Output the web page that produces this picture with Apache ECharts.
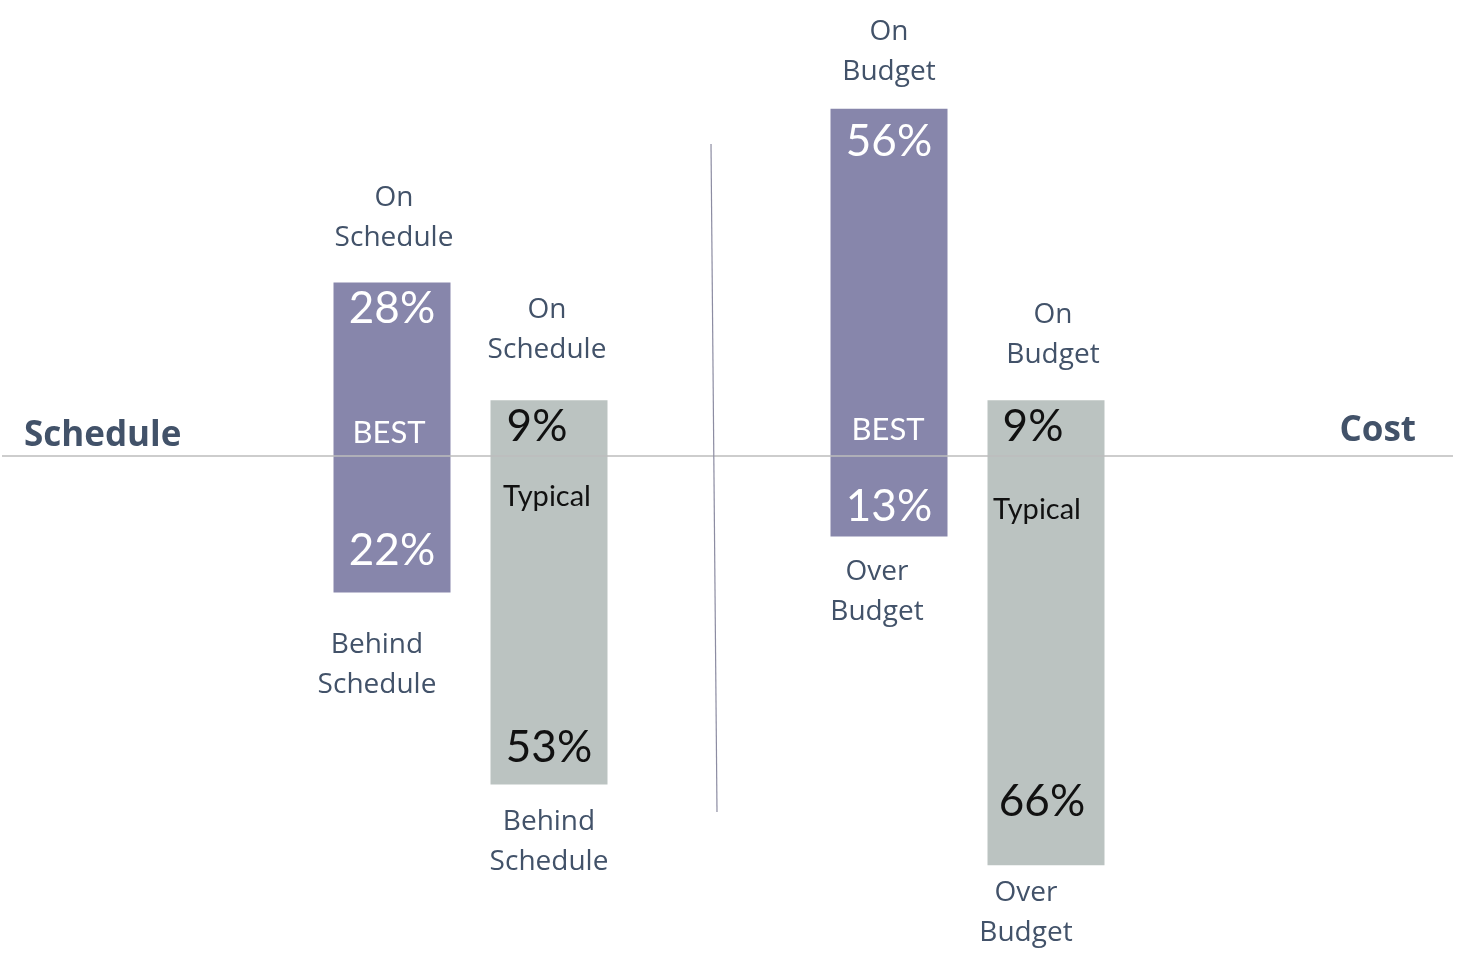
<!DOCTYPE html>
<html>
<head>
<meta charset="utf-8">
<script src="https://cdn.jsdelivr.net/npm/echarts@6/dist/echarts.min.js"></script>
<style>
html, body { margin: 0; padding: 0; background: #fff; }
#main { width: 1470px; height: 957px; }
</style>
</head>
<body>
<div id="main"></div>
<script>
// data
var groups = ['Schedule', 'Cost'];
var categories = ['BEST', 'Typical'];
var scheduleOn = [28, 9];
var scheduleBehind = [22, 53];
var costOn = [56, 9];
var costOver = [13, 66];
var scheduleUpText = ['On\nSchedule', 'On\nSchedule'];
var scheduleDownText = ['Behind\nSchedule', 'Behind\nSchedule'];
var costUpText = ['On\nBudget', 'On\nBudget'];
var costDownText = ['Over\nBudget', 'Over\nBudget'];

var FONT = 'Lato, "Open Sans", sans-serif';
var FONT_WIDE = '"Open Sans", Lato, sans-serif';
var SLATE = '#425269';
var barColors = ['#8786AB', '#BBC3C1'];
var pctColors = ['#ffffff', '#111111'];

// label nudges, [distance, xOffset] per bar
var nudge = [
  { // Schedule
    upOuter: [[24, 2], [30, -2]],
    downOuter: [[33, -15], [17, 0]],
    upPct: [[3, 0], [4, -12]],
    downPct: [[19, 0], [14, 0]],
    mid: [[6, -3], [24, -2]]
  },
  { // Cost
    upOuter: [[17, 0], [25, 7]],
    downOuter: [[15, -12], [8, -20]],
    upPct: [[10, 0], [4, -13]],
    downPct: [[7, 0], [40, -4]],
    mid: [[9, -1], [37, -9]]
  }
];

var chart = echarts.init(document.getElementById('main'));

function lbl(text, pos, nd, color, size, lh, family) {
  return {
    show: text !== '',
    position: pos,
    distance: nd[0],
    offset: [nd[1], 0],
    formatter: text,
    color: color,
    fontFamily: family || FONT,
    fontSize: size,
    lineHeight: lh
  };
}

function groupSeries(gi, up, down, upText, downText) {
  var n = nudge[gi];
  var common = {
    type: 'bar', xAxisIndex: gi, yAxisIndex: gi,
    barWidth: 117, barGap: '-100%', silent: true,
    emphasis: { disabled: true }
  };
  var bars = [], barsDown = [], pctUp = [], pctDown = [], midUp = [], midDown = [];
  for (var i = 0; i < categories.length; i++) {
    bars.push({ value: up[i], itemStyle: { color: barColors[i] },
      label: lbl(upText[i], 'top', n.upOuter[i], SLATE, 28, 40, FONT_WIDE) });
    barsDown.push({ value: -down[i], itemStyle: { color: barColors[i] },
      label: lbl(downText[i], 'bottom', n.downOuter[i], SLATE, 28, 40, FONT_WIDE) });
    pctUp.push({ value: up[i],
      label: lbl(up[i] + '%', 'insideTop', n.upPct[i], pctColors[i], 44, 46) });
    pctDown.push({ value: -down[i],
      label: lbl(down[i] + '%', 'insideBottom', n.downPct[i], pctColors[i], 44, 46) });
    midUp.push({ value: up[i],
      label: lbl(i === 0 ? categories[i] : '', 'insideBottom', n.mid[i], pctColors[i], 31, 34) });
    midDown.push({ value: -down[i],
      label: lbl(i === 1 ? categories[i] : '', 'insideTop', n.mid[i], pctColors[i], 29, 34) });
  }
  var transparent = { color: 'rgba(0,0,0,0)' };
  return [
    Object.assign({}, common, { name: groups[gi] + ' up', stack: 'bar' + gi, data: bars }),
    Object.assign({}, common, { name: groups[gi] + ' down', stack: 'bar' + gi, data: barsDown }),
    Object.assign({}, common, { stack: 'pct' + gi, itemStyle: transparent, data: pctUp }),
    Object.assign({}, common, { stack: 'pct' + gi, itemStyle: transparent, data: pctDown }),
    Object.assign({}, common, { stack: 'mid' + gi, itemStyle: transparent, data: midUp }),
    Object.assign({}, common, { stack: 'mid' + gi, itemStyle: transparent, data: midDown })
  ];
}

var yAxisBase = { type: 'value', min: -80, max: 70, show: false };
var xAxisBase = { type: 'category', data: categories, show: false };

var option = {
  animation: false,
  grid: [
    { left: 313.5, width: 314, top: 22, height: 930 },
    { left: 810.5, width: 314, top: 22, height: 930 }
  ],
  xAxis: [
    Object.assign({ gridIndex: 0 }, xAxisBase),
    Object.assign({ gridIndex: 1 }, xAxisBase)
  ],
  yAxis: [
    Object.assign({ gridIndex: 0 }, yAxisBase),
    Object.assign({ gridIndex: 1 }, yAxisBase)
  ],
  series: groupSeries(0, scheduleOn, scheduleBehind, scheduleUpText, scheduleDownText)
    .concat(groupSeries(1, costOn, costOver, costUpText, costDownText))
};
chart.setOption(option);

// zero line, divider and group titles
var zeroY = chart.convertToPixel({ yAxisIndex: 0 }, 0);
chart.setOption({
  graphic: [
    { type: 'line', z: 10, silent: true,
      shape: { x1: 2, y1: zeroY, x2: 1453, y2: zeroY },
      style: { stroke: '#BDBDBD', lineWidth: 1.5 } },
    { type: 'line', z: 10, silent: true,
      shape: { x1: 711, y1: 144, x2: 717, y2: 812 },
      style: { stroke: '#8C8CA2', lineWidth: 1.2 } },
    { type: 'text', z: 10, left: 24, top: zeroY - 37,
      style: { text: groups[0], fill: SLATE, font: 'bold 35px ' + FONT_WIDE } },
    { type: 'text', z: 10, right: 54, top: zeroY - 42,
      style: { text: groups[1], fill: SLATE, font: 'bold 35px ' + FONT_WIDE } }
  ]
});
</script>
</body>
</html>
